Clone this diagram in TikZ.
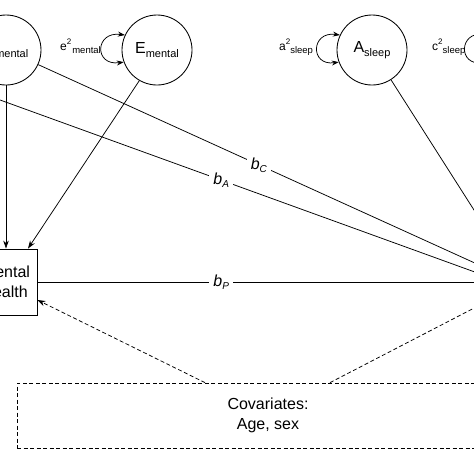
\documentclass[tikz,border=0pt]{standalone}
\usepackage{fontspec}
\setmainfont{Liberation Sans}
\usetikzlibrary{arrows.meta}
\newcommand\lsub[3]{\raisebox{#1}{\fontsize{#2}{#2}\selectfont #3}}
\begin{document}
\begin{tikzpicture}[x=1pt,y=-1pt,
  lat/.style={circle,draw,line width=0.85pt,minimum size=70pt,inner sep=0pt,font=\fontsize{16}{16}\selectfont},
  obs/.style={rectangle,draw,line width=0.85pt,minimum width=62pt,minimum height=66pt,align=center,font=\fontsize{16}{20}\selectfont},
  ghost/.style={rectangle,minimum width=88pt,minimum height=66pt,inner sep=0pt},
  arr/.style={line width=0.75pt,-{Stealth[length=8pt,width=5.5pt]}},
  dsh/.style={line width=0.75pt,dash pattern=on 4pt off 2.5pt},
  looparr/.style={line width=0.75pt,{Stealth[length=7pt,width=5pt]}-{Stealth[length=7pt,width=5pt]}},
  coef/.style={fill=white,inner sep=4pt,font=\fontsize{16}{16}\selectfont\itshape},
  vl/.style={inner sep=0pt,font=\fontsize{12}{12}\selectfont}
]
\useasboundingbox (0,0) rectangle (474,474);
\clip (0,0) rectangle (474,474);

% latent variables
\node[lat,draw=none] (Am) at (-160,42) {};
\node[lat] (Cm) at (6,50) {C\lsub{-4pt}{11}{mental}};
\node[lat] (Em) at (157,50) {E\lsub{-4pt}{11}{mental}};
\node[lat] (As) at (372,50) {A\lsub{-4pt}{11}{sleep}};
\node[lat] (Cs) at (520,50) {};

% observed
\node[obs] (Mh) at (6,282) {Mental\\health};
\node[ghost] (Sl) at (530,284) {};

% variance loops and labels
\draw[looparr] (Em.155) .. controls +(-30,-4) and +(-30,4) .. (Em.200);
\draw[looparr] (As.155) .. controls +(-29,-4) and +(-29,4) .. (As.200);
\draw[looparr] (Cs.155) .. controls +(-29,-4) and +(-29,4) .. (Cs.200);
\node[vl,anchor=base west] (ve) at (60,50) {e\lsub{6pt}{8}{2}\hspace{1pt}\lsub{-3pt}{9.5}{mental}};
\node[vl,anchor=base west] (va) at (279,50) {a\lsub{6pt}{8}{2}\lsub{-3pt}{9.5}{sleep}};
\node[vl,anchor=base west] (vc) at (432,50) {c\lsub{6pt}{8}{2}\lsub{-3pt}{9.5}{sleep}};

% paths
\draw[arr] (Cm) -- (Mh);
\draw[arr] (Em.240) -- ([xshift=22pt]Mh.north);
\draw[arr] (Cm) -- ([yshift=16pt]Sl.west) node[coef,pos=0.493] (lbc) {b\lsub{-3pt}{10}{C}};
\draw[arr] (Am) -- ([yshift=8pt]Sl.west) node[coef,pos=0.568] (lba) {b\lsub{-3pt}{10}{A}};
\draw[arr] (Mh.east) -- (Mh.east -| Sl.west) node[coef,pos=0.41] (lbp) {b\lsub{-3pt}{10}{P}};
\draw[arr] (As) -- ([xshift=-30pt]Sl.north);

% covariates
\node[draw,dsh,minimum width=502pt,minimum height=65pt,align=center,font=\fontsize{16}{20}\selectfont] (Cov) at (268,415.5) {Covariates:\\Age, sex};
\draw[dsh,-{Stealth[length=8pt,width=5.5pt]}] ([xshift=-63pt]Cov.north) -- ([yshift=-18pt]Mh.east);
\draw[dsh,-{Stealth[length=8pt,width=5.5pt]}] ([xshift=62pt]Cov.north) -- ([yshift=-18pt]Sl.west);
\end{tikzpicture}
\end{document}
